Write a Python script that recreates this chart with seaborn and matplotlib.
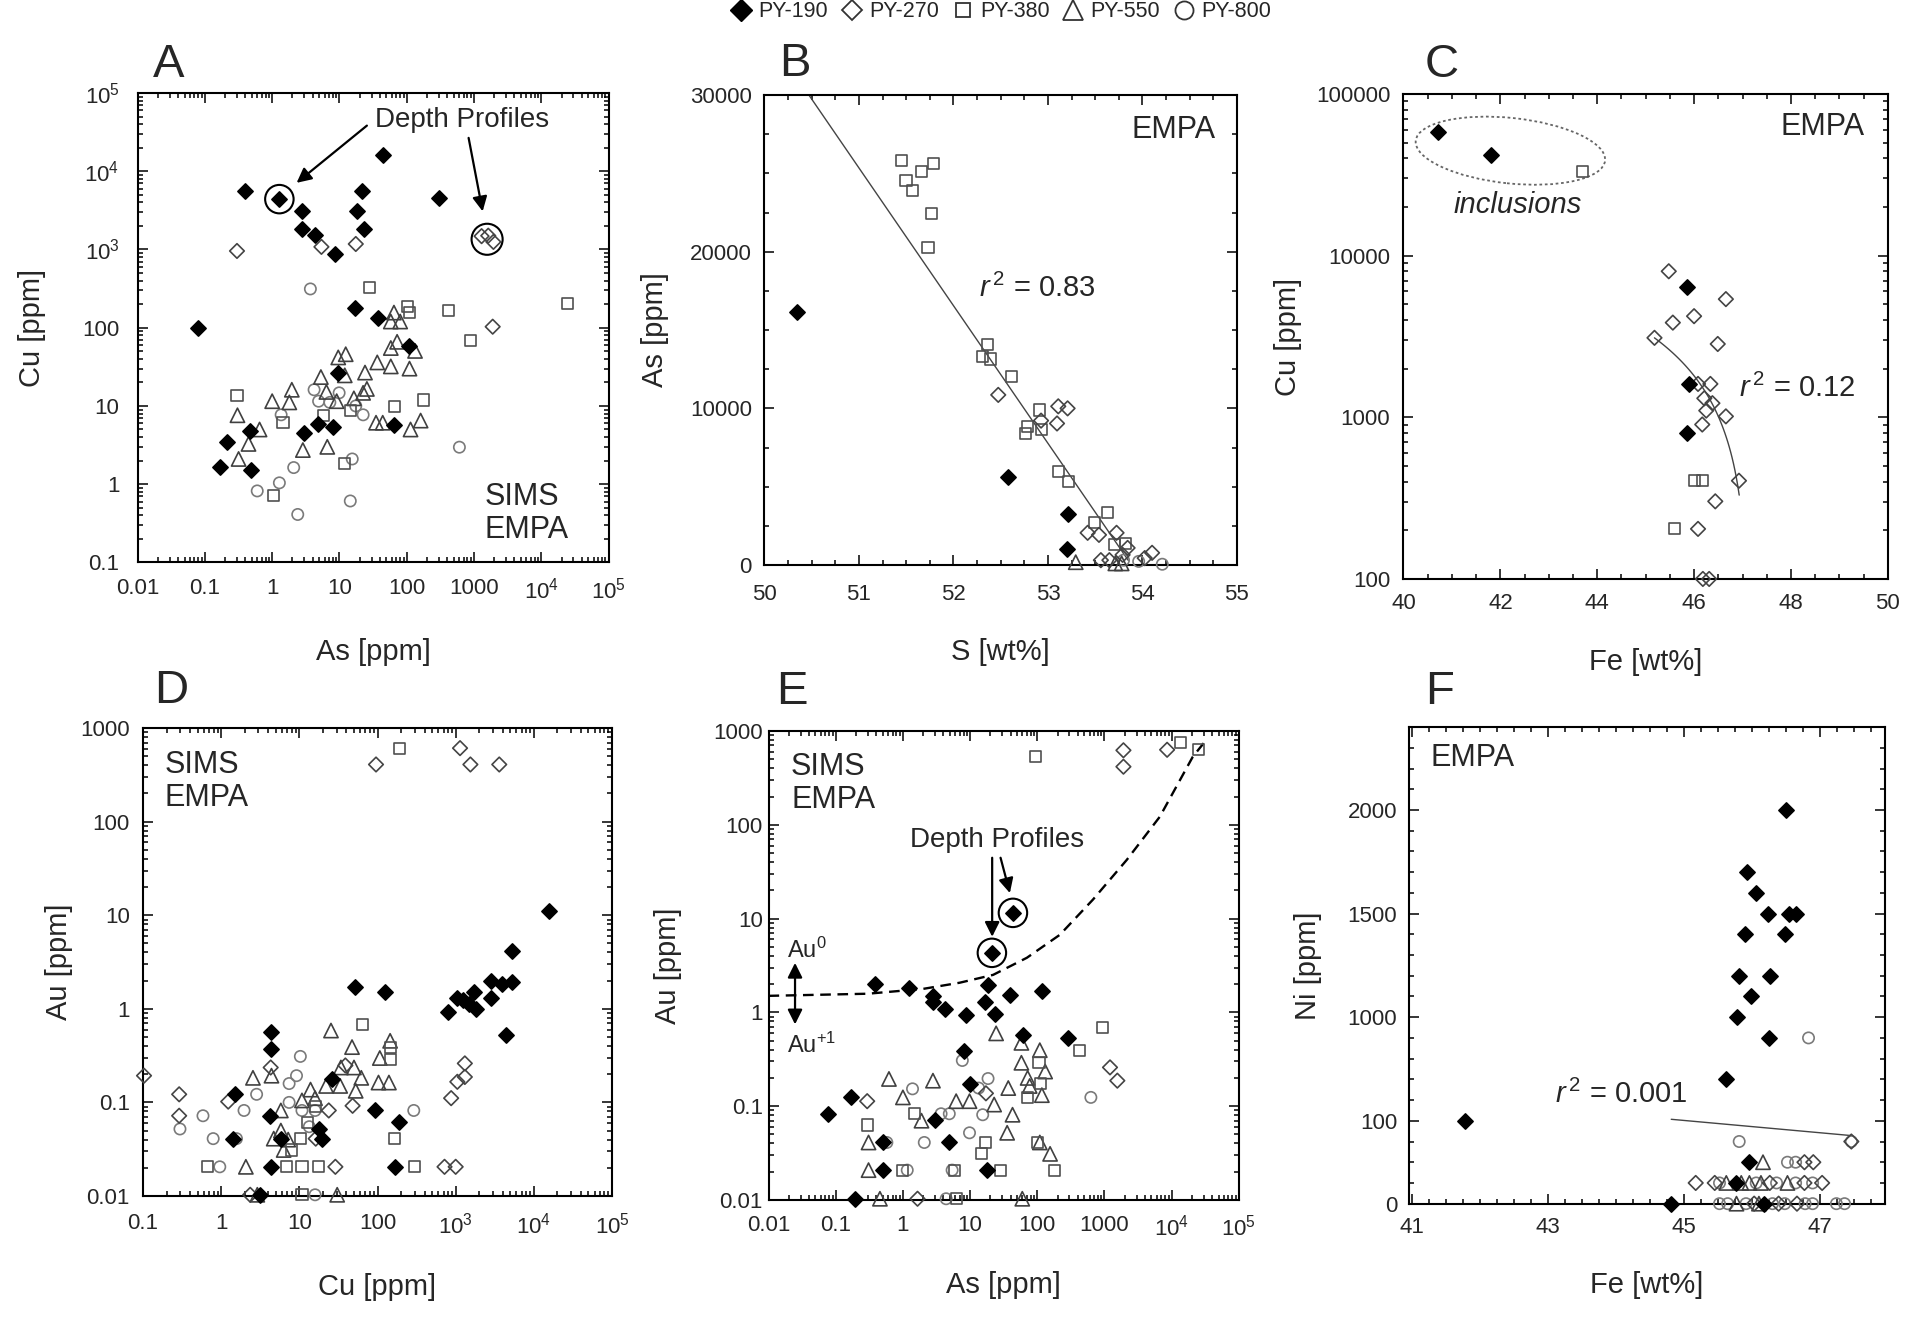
import numpy as np
import matplotlib
matplotlib.use("Agg")
import matplotlib.pyplot as plt
import matplotlib.ticker as mticker
from matplotlib.patches import Ellipse
from matplotlib.lines import Line2D
import seaborn as sns

# ---------------- data ----------------
# A: Cu vs As [ppm]
a_190_as = [0.39, 1.28, 2.8, 2.8, 4.35, 8.7, 21.7, 18.2, 23.4, 44, 302, 0.079, 17, 38, 110, 9.6,
            0.214, 0.17, 0.475, 0.49, 3.0, 4.75, 8.0, 64.6]
a_190_cu = [5600, 4400, 3070, 1850, 1530, 870, 5600, 3070, 1850, 16100, 4500, 100, 178, 132, 58, 26.7,
            3.47, 1.65, 4.8, 1.53, 4.5, 5.96, 5.4, 5.7]
a_270_as = [0.30, 5.4, 17.5, 1297, 1630, 1945, 1897]
a_270_cu = [957, 1080, 1175, 1480, 1500, 1250, 103]
a_380_as = [28.3, 103, 110, 415, 887, 24800, 0.30, 1.45, 5.8, 14.5, 66, 178, 12, 1.05]
a_380_cu = [325, 189, 158, 164, 68, 203, 13.5, 6.1, 7.6, 8.75, 9.9, 11.9, 1.86, 0.71]
a_550_as = [64.6, 58, 80, 72, 58, 133, 110, 58, 36.5, 24, 25.6, 22.5, 16.4, 12.4, 9.6, 12, 5.3, 6.4,
            9.1, 1.96, 1.8, 1.0, 0.305, 0.65, 0.445, 0.317, 2.86, 6.6, 35, 44, 114, 161]
a_550_cu = [156, 120, 120, 66, 55, 50.5, 30, 32, 36, 26.7, 16.5, 14.7, 12.5, 45.8, 41.7, 24.6, 23.4, 15.1,
            11.5, 16.1, 11.1, 11.5, 7.6, 5.0, 3.27, 2.1, 2.73, 3.0, 6.1, 6.1, 5.0, 6.5]
a_800_as = [3.7, 4.2, 4.9, 9.9, 7.2, 17.5, 22.5, 1.36, 2.09, 1.28, 0.6, 2.4, 15.5, 14.5, 607]
a_800_cu = [313, 16.1, 11.5, 14.7, 11.1, 10, 7.7, 7.7, 1.63, 1.04, 0.82, 0.41, 2.1, 0.61, 2.97]
a_profile_as = [1.28, 1567]
a_profile_cu = [4400, 1350]

# B: As [ppm] vs S [wt%]
b_190_s = [50.345, 52.578, 53.217, 53.204]
b_190_as = [16145, 5600, 3230, 1016]
b_270_s = [52.474, 52.927, 53.109, 53.208, 53.096, 53.42, 53.54, 53.726, 53.843, 53.79, 54.102, 54.024,
           53.56, 53.65]
b_270_as = [10860, 9218, 10130, 10000, 9036, 2057, 1927, 2057, 1094, 651, 781, 443, 312, 312]
b_380_s = [51.446, 51.498, 51.567, 51.662, 51.792, 51.77, 51.731, 52.362, 52.31, 52.396, 52.612, 52.914,
           52.785, 52.763, 52.936, 53.109, 53.217, 53.627, 53.497, 53.705, 53.821]
b_380_as = [25830, 24530, 23880, 25130, 25650, 22450, 20290, 14060, 13330, 13150, 12030, 9895, 8854,
            8385, 8645, 5963, 5338, 3359, 2734, 1302, 1354]
b_550_s = [53.294, 53.713, 53.78]
b_550_as = [182, 104, 104]
b_800_s = [54.21, 53.96, 53.8]
b_800_as = [52, 234, 312]
b_fit_s = [50.47, 53.85]
b_fit_as = [30000, 300]

# C: Cu [ppm] vs Fe [wt%]
c_190_fe = [40.716, 41.803, 45.847, 45.897, 45.847]
c_190_cu = [58500, 42000, 6410, 1608, 804]
c_270_fe = [45.476, 46.655, 45.56, 45.998, 45.181, 46.487, 46.08, 46.335, 46.21, 46.377, 46.25, 46.655,
            46.167, 46.925, 46.436, 46.08, 46.18, 46.31]
c_270_cu = [8000, 5380, 3850, 4220, 3100, 2840, 1608, 1608, 1310, 1222, 1100, 1013, 902, 405, 302, 204,
            100, 100]
c_380_fe = [43.698, 46.0, 46.18, 45.594]
c_380_cu = [33270, 405, 405, 204]
c_fit_fe = [45.18, 46.93]
c_fit_cu = [3100, 330]

# D: Au vs Cu [ppm]
d_190_cu = [51.5, 126, 15560, 5230, 5230, 3900, 2810, 2810, 1720, 1820, 1460, 1240, 1050, 802, 4350,
            4.3, 4.3, 26, 1.52, 4.2, 1.41, 17.7, 19.3, 5.8, 92.7, 188, 165, 4.4, 3.1]
d_190_au = [1.69, 1.5, 11, 4.1, 1.93, 1.83, 2.0, 1.31, 1.53, 0.99, 1.13, 1.25, 1.31, 0.92, 0.53,
            0.57, 0.37, 0.178, 0.122, 0.072, 0.041, 0.052, 0.041, 0.041, 0.082, 0.0615, 0.0205, 0.0205, 0.0103]
d_270_cu = [0.103, 0.29, 0.29, 1.23, 4.3, 95.7, 1137, 1543, 3610, 1310, 1310, 1050, 875, 38.8, 48,
            23.8, 16.2, 28.9, 720, 1000, 2.35]
d_270_au = [0.193, 0.122, 0.072, 0.102, 0.236, 408, 610, 408, 408, 0.261, 0.187, 0.166, 0.111, 0.248,
            0.092, 0.082, 0.041, 0.0205, 0.0205, 0.0205, 0.0103]
d_380_cu = [64, 148, 148, 165, 300, 190, 0.67, 6.8, 10.8, 17.7, 10.3, 8.0, 12.8, 15.9, 10.8]
d_380_au = [0.68, 0.39, 0.289, 0.041, 0.0205, 610, 0.0205, 0.0205, 0.0205, 0.0205, 0.041, 0.031,
            0.0615, 0.09, 0.0103]
d_550_cu = [25.4, 47.2, 145, 107, 50, 62, 103, 140, 52.6, 33.3, 2.55, 4.4, 13.9, 10.8, 15.9, 5.8, 5.8,
            4.7, 7.2, 6.3, 2.07, 30.5, 2.9, 22, 34]
d_550_au = [0.586, 0.39, 0.455, 0.298, 0.236, 0.183, 0.163, 0.163, 0.133, 0.15, 0.183, 0.193, 0.137,
            0.105, 0.111, 0.082, 0.05, 0.041, 0.040, 0.031, 0.0205, 0.0103, 0.0103, 0.15, 0.236]
d_800_cu = [0.297, 0.585, 0.79, 0.96, 1.57, 1.96, 2.84, 10.3, 9.2, 7.4, 7.4, 10.8, 15.9, 13.4, 15.9, 291]
d_800_au = [0.052, 0.072, 0.041, 0.0205, 0.041, 0.082, 0.122, 0.31, 0.193, 0.159, 0.1, 0.082, 0.082,
            0.055, 0.0103, 0.082]

# E: Au vs As [ppm]
e_190_as = [0.379, 1.24, 2.8, 2.8, 4.26, 8.6, 18.5, 16.5, 23.4, 39.8, 117, 21.1, 43.4, 60.7, 290, 8.2,
            9.8, 0.078, 0.171, 2.96, 0.5, 4.83, 0.5, 17.7, 0.196]
e_190_au = [2.0, 1.81, 1.51, 1.30, 1.08, 0.94, 1.94, 1.30, 0.96, 1.54, 1.70, 4.31, 11.5, 0.58, 0.535,
            0.387, 0.173, 0.083, 0.124, 0.071, 0.041, 0.041, 0.0208, 0.0208, 0.0103]
e_270_as = [1914, 1914, 8550, 1208, 1553, 0.294, 17.2, 1.65]
e_270_au = [622, 416, 630, 0.259, 0.187, 0.113, 0.137, 0.0103]
e_380_as = [95, 13550, 24700, 927, 424, 106, 112, 71.8, 1.47, 0.294, 17.2, 15.0, 102, 178, 28.1, 1.0,
            5.8, 6.2]
e_380_au = [530, 753, 630, 0.687, 0.395, 0.29, 0.173, 0.124, 0.084, 0.063, 0.041, 0.031, 0.041, 0.0208,
            0.0208, 0.0208, 0.0208, 0.0103]
e_550_as = [0.62, 2.8, 1.0, 1.89, 0.308, 0.308, 0.455, 6.2, 9.8, 24.4, 58, 58, 109, 131, 37, 71.8, 77,
            117, 22.8, 42.8, 35.6, 109, 155, 59.8]
e_550_au = [0.195, 0.187, 0.124, 0.07, 0.041, 0.0208, 0.0103, 0.113, 0.113, 0.597, 0.473, 0.29, 0.395,
            0.234, 0.156, 0.2, 0.164, 0.131, 0.104, 0.081, 0.052, 0.041, 0.031, 0.0103]
e_800_as = [1.39, 3.7, 4.9, 0.577, 2.08, 1.16, 5.4, 7.66, 18.5, 15.4, 9.8, 627, 4.4, 13.4]
e_800_au = [0.153, 0.083, 0.083, 0.041, 0.041, 0.0208, 0.0208, 0.307, 0.197, 0.081, 0.052, 0.124,
            0.0103, 0.156]
e_profile_as = [21.1, 43.4]
e_profile_au = [4.31, 11.5]
e_curve_as = [0.01, 0.3, 2, 7, 22, 70, 217, 672, 2150, 6670, 20650, 31200]
e_curve_au = [1.5, 1.58, 1.78, 2.07, 2.51, 3.82, 6.72, 15.9, 42.3, 122, 532, 769]

# F: Ni [ppm] vs Fe [wt%]
f_190_fe = [41.77, 46.5, 45.92, 46.06, 46.23, 46.55, 46.64, 45.9, 46.49, 45.8, 46.26, 45.98, 45.78,
            46.25, 45.61, 44.81, 45.95, 45.77, 46.18]
f_190_ni = [100, 2000, 1700, 1600, 1500, 1500, 1500, 1400, 1400, 1200, 1200, 1100, 1000, 820, 460, 0,
            50, 25, 0]
f_270_fe = [47.46, 46.77, 46.90, 45.17, 45.45, 46.26, 46.77, 47.03, 46.03, 46.39, 46.66]
f_270_ni = [75, 50, 50, 25, 25, 25, 25, 25, 0, 0, 0]
f_550_fe = [46.16, 45.62, 45.84, 45.96, 46.13, 46.52, 45.77, 46.1]
f_550_ni = [50, 25, 25, 25, 25, 25, 0, 0]
f_800_fe = [46.83, 45.81, 47.46, 46.52, 46.64, 45.52, 46.06, 46.36, 46.64, 46.89, 45.52, 45.64, 45.91,
            46.3, 46.48, 46.78, 46.89, 47.24, 47.36]
f_800_ni = [820, 75, 75, 50, 50, 25, 25, 25, 25, 25, 0, 0, 0, 0, 0, 0, 0, 0, 0]
f_fit_fe = [44.81, 47.48]
f_fit_ni = [113, 82]
# broken Ni axis: 0-100, 100-1000 and 1000-2400 each drawn linearly
f_axis_ni = [0, 100, 1000, 2400]
f_axis_pos = [0, 4, 9, 23]

# ---------------- style ----------------
sns.set_theme(style="ticks")
plt.rcParams["font.family"] = ["Liberation Sans", "DejaVu Sans"]
plt.rcParams["mathtext.fontset"] = "custom"
plt.rcParams["mathtext.rm"] = "Liberation Sans"
plt.rcParams["mathtext.it"] = "Liberation Sans:italic"
plt.rcParams["axes.linewidth"] = 1.5

styles = {
    "PY-190": dict(marker="D", s=60, facecolor="black", edgecolor="black"),
    "PY-270": dict(marker="D", s=55, facecolor="none", edgecolor="#444444"),
    "PY-380": dict(marker="s", s=64, facecolor="none", edgecolor="#505050"),
    "PY-550": dict(marker="^", s=105, facecolor="none", edgecolor="#404040"),
    "PY-800": dict(marker="o", s=66, facecolor="none", edgecolor="#7a7a7a"),
}


def draw_points(ax, series):
    for name, x, y in series:
        sns.scatterplot(x=x, y=y, ax=ax, linewidth=1.2, clip_on=False, zorder=3,
                        legend=False, **styles[name])


def log_axis(axis, labels, lo):
    axis.set_major_locator(mticker.FixedLocator(10.0 ** np.arange(lo, lo + len(labels))))
    axis.set_major_formatter(mticker.FixedFormatter(labels))
    axis.set_minor_locator(mticker.LogLocator(base=10, subs=np.arange(2, 10) * 1.0, numticks=40))
    axis.set_minor_formatter(mticker.NullFormatter())


def frame(ax, xpad, ypad):
    ax.tick_params(which="both", direction="in", top=True, right=True, color="black",
                   labelsize=16, width=1.1)
    ax.tick_params(which="major", length=7)
    ax.tick_params(which="minor", length=3.5)
    ax.tick_params(axis="x", pad=xpad)
    ax.tick_params(axis="y", pad=ypad)
    for sp in ax.spines.values():
        sp.set_color("black")


def labels(ax, xl, yl, xy, yx):
    ax.set_xlabel(xl, fontsize=21, va="center")
    ax.set_ylabel(yl, fontsize=21, va="center")
    ax.xaxis.set_label_coords(0.5, xy)
    ax.yaxis.set_label_coords(yx, 0.5)


def arrow(ax, start, tip, style="-|>"):
    ax.annotate("", xy=tip, xytext=start,
                arrowprops=dict(arrowstyle=style, color="black", lw=1.6, mutation_scale=22,
                                shrinkA=0, shrinkB=0))


sup = lambda n: r"$\mathregular{10^{%d}}$" % n
r2 = r"$r^{\,2}$ = "

fig = plt.figure(figsize=(19.3, 13.23), dpi=100)

# ---------------- A ----------------
ax = fig.add_axes([0.0713, 0.5749, 0.2440, 0.3548])
draw_points(ax, [("PY-800", a_800_as, a_800_cu), ("PY-550", a_550_as, a_550_cu),
                 ("PY-380", a_380_as, a_380_cu), ("PY-270", a_270_as, a_270_cu),
                 ("PY-190", a_190_as, a_190_cu)])
ax.set_xscale("log")
ax.set_yscale("log")
ax.set_xlim(0.01, 1e5)
ax.set_ylim(0.1, 1e5)
log_axis(ax.xaxis, ["0.01", "0.1", "1", "10", "100", "1000", sup(4), sup(5)], -2)
log_axis(ax.yaxis, ["0.1", "1", "10", "100", sup(3), sup(4), sup(5)], -1)
ax.scatter(a_profile_as, a_profile_cu, s=[420, 500], facecolors="none", edgecolors="black",
           linewidths=1.5, zorder=4)
ax.text(671, 45800, "Depth Profiles", fontsize=20, ha="center", va="center")
arrow(ax, (25.6, 38300), (2.31, 7110))
arrow(ax, (832, 26700), (1346, 3070))
ax.text(0.737, 0.037, "SIMS\nEMPA", transform=ax.transAxes, fontsize=22, ha="left", va="bottom",
        linespacing=1.15)
frame(ax, 11, 13)
labels(ax, "As [ppm]", "Cu [ppm]", -0.191, -0.2245)

# ---------------- B ----------------
ax = fig.add_axes([0.3961, 0.5729, 0.2448, 0.3553])
ax.plot(b_fit_s, b_fit_as, color="#444444", lw=1.0, zorder=2)
draw_points(ax, [("PY-800", b_800_s, b_800_as), ("PY-550", b_550_s, b_550_as),
                 ("PY-380", b_380_s, b_380_as), ("PY-270", b_270_s, b_270_as),
                 ("PY-190", b_190_s, b_190_as)])
ax.set_xlim(50, 55)
ax.set_ylim(0, 30000)
ax.xaxis.set_major_locator(mticker.MultipleLocator(1))
ax.xaxis.set_minor_locator(mticker.MultipleLocator(0.25))
ax.yaxis.set_major_locator(mticker.MultipleLocator(10000))
ax.yaxis.set_minor_locator(mticker.MultipleLocator(2500))
ax.yaxis.set_major_formatter(mticker.FormatStrFormatter("%d"))
ax.text(52.27, 17630, r2 + "0.83", fontsize=21, ha="left", va="center")
ax.text(0.954, 0.926, "EMPA", transform=ax.transAxes, fontsize=22, ha="right", va="center")
frame(ax, 14, 9)
labels(ax, "S [wt%]", "As [ppm]", -0.185, -0.231)

# ---------------- C ----------------
ax = fig.add_axes([0.7272, 0.5624, 0.2510, 0.3666])
fit_fe = np.linspace(c_fit_fe[0], c_fit_fe[1], 60)
fit_cu = np.linspace(c_fit_cu[0], c_fit_cu[1], 60)
ax.plot(fit_fe, fit_cu, color="#444444", lw=1.0, zorder=2)
draw_points(ax, [("PY-380", c_380_fe, c_380_cu), ("PY-270", c_270_fe, c_270_cu),
                 ("PY-190", c_190_fe, c_190_cu)])
ax.set_yscale("log")
ax.set_xlim(40, 50)
ax.set_ylim(100, 1e5)
ax.xaxis.set_major_locator(mticker.MultipleLocator(2))
ax.xaxis.set_minor_locator(mticker.MultipleLocator(0.5))
log_axis(ax.yaxis, ["100", "1000", "10000", "100000"], 2)
ax.add_patch(Ellipse((0.2207, 0.883), 0.393, 0.135, angle=-6, transform=ax.transAxes, fill=False,
                     ls=(0, (1.5, 1.5)), ec="#666666", lw=1.3))
ax.text(0.236, 0.771, "inclusions", transform=ax.transAxes, fontsize=21, style="italic",
        ha="center", va="center")
ax.text(0.6925, 0.393, r2 + "0.12", transform=ax.transAxes, fontsize=21, ha="left", va="center")
ax.text(0.952, 0.931, "EMPA", transform=ax.transAxes, fontsize=22, ha="right", va="center")
frame(ax, 10, 9.5)
labels(ax, "Fe [wt%]", "Cu [ppm]", -0.171, -0.238)

# ---------------- D ----------------
ax = fig.add_axes([0.0741, 0.0960, 0.2430, 0.3537])
draw_points(ax, [("PY-800", d_800_cu, d_800_au), ("PY-550", d_550_cu, d_550_au),
                 ("PY-380", d_380_cu, d_380_au), ("PY-270", d_270_cu, d_270_au),
                 ("PY-190", d_190_cu, d_190_au)])
ax.set_xscale("log")
ax.set_yscale("log")
ax.set_xlim(0.1, 1e5)
ax.set_ylim(0.01, 1000)
log_axis(ax.xaxis, ["0.1", "1", "10", "100", sup(3), sup(4), sup(5)], -1)
log_axis(ax.yaxis, ["0.01", "0.1", "1", "10", "100", "1000"], -2)
ax.text(0.046, 0.953, "SIMS\nEMPA", transform=ax.transAxes, fontsize=22, ha="left", va="top",
        linespacing=1.15)
frame(ax, 12, 9.5)
labels(ax, "Cu [ppm]", "Au [ppm]", -0.194, -0.18)

# ---------------- E ----------------
ax = fig.add_axes([0.3982, 0.0930, 0.2437, 0.3545])
ax.plot(e_curve_as, e_curve_au, color="black", lw=1.7, dashes=(4.5, 2.8), zorder=2)
draw_points(ax, [("PY-800", e_800_as, e_800_au), ("PY-550", e_550_as, e_550_au),
                 ("PY-380", e_380_as, e_380_au), ("PY-270", e_270_as, e_270_au),
                 ("PY-190", e_190_as, e_190_au)])
ax.set_xscale("log")
ax.set_yscale("log")
ax.set_xlim(0.01, 1e5)
ax.set_ylim(0.01, 1000)
log_axis(ax.xaxis, ["0.01", "0.1", "1", "10", "100", "1000", sup(4), sup(5)], -2)
log_axis(ax.yaxis, ["0.01", "0.1", "1", "10", "100", "1000"], -2)
ax.scatter(e_profile_as, e_profile_au, s=420, facecolors="none", edgecolors="black",
           linewidths=1.5, zorder=4)
ax.text(25, 69, "Depth Profiles", fontsize=20, ha="center", va="center")
arrow(ax, (21.3, 44.5), (21.3, 6.4))
arrow(ax, (28.4, 44.5), (39.1, 18.7))
arrow(ax, (0.0248, 0.745), (0.0248, 3.37), style="<|-|>")
ax.text(0.0187, 4.57, r"Au$^{\mathregular{0}}$", fontsize=17, ha="left", va="center")
ax.text(0.0187, 0.45, r"Au$^{\mathregular{+1}}$", fontsize=17, ha="left", va="center")
ax.text(0.048, 0.956, "SIMS\nEMPA", transform=ax.transAxes, fontsize=22, ha="left", va="top",
        linespacing=1.15)
frame(ax, 10.5, 4)
labels(ax, "As [ppm]", "Au [ppm]", -0.181, -0.213)

# ---------------- F ----------------
ax = fig.add_axes([0.7300, 0.0902, 0.2465, 0.3602])
ax.set_yscale("function", functions=(lambda v: np.interp(v, f_axis_ni, f_axis_pos),
                                     lambda u: np.interp(u, f_axis_pos, f_axis_ni)))
ax.plot(f_fit_fe, f_fit_ni, color="#444444", lw=1.0, zorder=2)
draw_points(ax, [("PY-800", f_800_fe, f_800_ni), ("PY-550", f_550_fe, f_550_ni),
                 ("PY-270", f_270_fe, f_270_ni), ("PY-190", f_190_fe, f_190_ni)])
ax.set_xlim(40.95, 47.95)
ax.set_ylim(0, 2400)
ax.xaxis.set_major_locator(mticker.FixedLocator([41, 43, 45, 47]))
ax.xaxis.set_minor_locator(mticker.MultipleLocator(0.25))
ax.yaxis.set_major_locator(mticker.FixedLocator([0, 100, 1000, 1500, 2000]))
ax.yaxis.set_major_formatter(mticker.FixedFormatter(["0", "100", "1000", "1500", "2000"]))
ax.yaxis.set_minor_locator(mticker.FixedLocator(
    [25, 50, 75, 280, 460, 640, 820, 1100, 1200, 1300, 1400, 1600, 1700, 1800, 1900, 2100, 2200, 2300]))
ax.yaxis.set_minor_formatter(mticker.NullFormatter())
ax.text(0.307, 0.23, r2 + "0.001", transform=ax.transAxes, fontsize=21, ha="left", va="center")
ax.text(0.0455, 0.935, "EMPA", transform=ax.transAxes, fontsize=22, ha="left", va="center")
frame(ax, 9.5, 8.5)
labels(ax, "Fe [wt%]", "Ni [ppm]", -0.171, -0.213)

# ---------------- panel letters + shared legend ----------------
for letter, x, y in [("A", 153, 77), ("B", 779, 76), ("C", 1425, 77),
                     ("D", 154, 703), ("E", 776, 704), ("F", 1425, 704)]:
    fig.text(x / 1930, 1 - y / 1323, letter, fontsize=34, ha="left", va="baseline")

handles = [
    Line2D([], [], ls="none", marker="D", ms=11, mfc="black", mec="black"),
    Line2D([], [], ls="none", marker="D", ms=10, mfc="none", mec="#333333", mew=1.3),
    Line2D([], [], ls="none", marker="s", ms=10, mfc="none", mec="#333333", mew=1.3),
    Line2D([], [], ls="none", marker="^", ms=14, mfc="none", mec="#333333", mew=1.3),
    Line2D([], [], ls="none", marker="o", ms=13, mfc="none", mec="#333333", mew=1.3),
]
fig.legend(handles, ["PY-190", "PY-270", "PY-380", "PY-550", "PY-800"], loc="center",
           bbox_to_anchor=(0.518, 0.991), ncol=5, frameon=False, fontsize=15.5,
           handletextpad=0.2, columnspacing=0.5, handlelength=1.2, borderpad=0)

plt.savefig("out.png", dpi=100)
